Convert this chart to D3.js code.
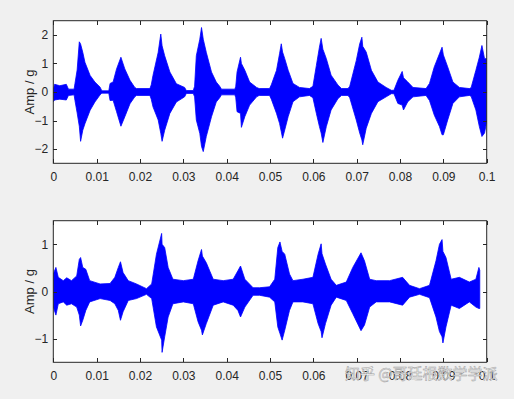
<!DOCTYPE html>
<meta charset="utf-8">
<style>
    body {
        margin: 0;
        background: #f0f0f0;
    }

    .axis text {
        font: 12px "Liberation Sans", Arial, sans-serif;
        fill: #262626;
    }

    .axis line {
        stroke: #262626;
        shape-rendering: crispEdges;
    }

    .ylabel {
        font: 13px "Liberation Sans", Arial, sans-serif;
        fill: #262626;
    }
</style>

<body>
    <script src="https://d3js.org/d3.v7.min.js"></script>
    <script>

        // time axis in ms, labels shown in seconds
        var xTicks = [0, 10, 20, 30, 40, 50, 60, 70, 80, 90, 100];
        var xTickLabels = ["0", "0.01", "0.02", "0.03", "0.04", "0.05", "0.06", "0.07", "0.08", "0.09", "0.1"];

        var topYTicks = [-2, -1, 0, 1, 2];
        var bottomYTicks = [-1, 0, 1];

        // envelope of the raw signal (upper / lower)
        var topTime = [0, 0.3, 1.5, 3.0, 3.5, 4.8, 5.0, 5.5, 6.0, 6.3, 6.8, 7.3, 8.5, 9.6, 10.8, 11.2, 12.8, 13.1, 13.8, 14.6,
            15.6, 16.5, 17.7, 18.8, 19.2, 22.3, 22.6, 23.0, 24.2, 24.8, 25.1, 25.7, 26.9, 28.4, 30.3, 30.7, 32.3, 32.6, 33.0, 33.8,
            34.2, 34.6, 35.3, 36.5, 37.6, 38.4, 38.8, 41.9, 42.1, 42.4, 43.2, 43.4, 44.2, 45.3, 46.9, 47.5, 49.9, 50.3, 51.5, 52.2,
            52.6, 52.9, 53.4, 54.2, 55.3, 56.8, 59.1, 59.9, 60.7, 61.4, 61.8, 62.2, 63.0, 64.1, 65.7, 66.5, 68.0, 68.4, 69.9, 70.7,
            71.2, 71.4, 72.2, 73.4, 74.9, 76.8, 78.0, 78.6, 79.5, 80.5, 80.8, 81.8, 83.0, 86.0, 86.8, 87.9, 89.1, 89.7, 90.0, 91.0,
            92.2, 93.7, 96.0, 96.4, 97.5, 98.3, 98.9, 99.5, 100];
        var topHigh = [0.1, 0.27, 0.22, 0.27, 0.1, 0.1, 0.3, 0.77, 1.76, 1.68, 1.39, 1.04, 0.58, 0.35, 0.17, 0.04, 0.04, 0.3, 0.35, 0.81,
            1.22, 0.81, 0.41, 0.16, 0.12, 0.12, 0.25, 0.58, 1.39, 2.03, 1.62, 1.27, 0.7, 0.29, 0.16, 0.05, 0.05, 0.2, 1.27, 1.85,
            2.26, 1.85, 1.39, 0.7, 0.35, 0.2, 0.1, 0.1, 0.2, 0.7, 1.22, 1.0, 0.76, 0.35, 0.16, 0.12, 0.12, 0.25, 0.76, 1.34,
            1.69, 1.4, 1.17, 0.76, 0.3, 0.16, 0.12, 0.2, 0.93, 1.57, 1.88, 1.5, 1.17, 0.59, 0.24, 0.12, 0.12, 0.2, 1.1, 1.69,
            1.92, 1.6, 1.4, 0.76, 0.35, 0.16, 0.06, 0.06, 0.41, 0.72, 0.5, 0.35, 0.16, 0.12, 0.3, 0.88, 1.34, 1.57, 1.3, 0.88,
            0.35, 0.16, 0.12, 0.15, 0.76, 1.22, 1.63, 1.17, 1.17];
        var topLow = [-0.34, -0.28, -0.25, -0.28, -0.12, -0.1, -0.3, -0.73, -1.2, -1.73, -1.34, -1.11, -0.64, -0.35, -0.1, -0.04, -0.04, -0.3, -0.29, -0.69,
            -1.2, -0.87, -0.41, -0.17, -0.12, -0.12, -0.25, -0.52, -0.98, -1.45, -1.73, -1.34, -0.75, -0.35, -0.17, -0.05, -0.05, -0.17, -0.98, -1.45,
            -1.91, -2.09, -1.56, -0.87, -0.35, -0.2, -0.1, -0.1, -0.2, -0.69, -0.75, -1.24, -0.86, -0.46, -0.17, -0.12, -0.12, -0.25, -0.75, -1.1,
            -1.39, -1.62, -1.33, -0.86, -0.34, -0.17, -0.12, -0.2, -0.75, -1.21, -1.44, -1.77, -1.21, -0.63, -0.23, -0.12, -0.12, -0.2, -0.98, -1.44,
            -1.68, -1.85, -1.27, -0.75, -0.34, -0.17, -0.06, -0.06, -0.4, -0.46, -0.63, -0.34, -0.17, -0.12, -0.3, -0.81, -1.21, -1.5, -1.5, -0.98,
            -0.4, -0.17, -0.12, -0.15, -0.63, -1.21, -1.56, -1.44, -1.04];

        var bottomTime = [0, 0.6, 1.15, 2.3, 3.1, 4.2, 5.4, 6.0, 6.3, 6.8, 7.5, 8.4, 10.8, 13.1, 14.2, 15.0, 15.5, 16.1, 17.3, 19.2,
            21.5, 22.7, 23.8, 25.0, 25.1, 25.7, 26.5, 27.6, 30.0, 32.3, 33.4, 34.2, 34.4, 35.3, 36.9, 39.2, 41.5, 42.6, 43.2, 44.2,
            46.1, 47.6, 49.9, 51.1, 51.8, 52.3, 52.8, 53.4, 54.5, 55.3, 57.6, 59.9, 61.1, 61.8, 62.0, 62.8, 64.1, 65.3, 67.6, 69.1,
            71.0, 71.8, 73.0, 74.5, 77.6, 80.6, 82.2, 84.5, 86.8, 88.3, 89.1, 89.7, 89.9, 90.6, 91.8, 93.7, 96.0, 97.5, 98.2, 98.4];
        var bottomHigh = [0.37, 0.51, 0.3, 0.23, 0.29, 0.23, 0.33, 0.68, 0.72, 0.51, 0.47, 0.23, 0.16, 0.17, 0.3, 0.51, 0.63, 0.4, 0.23, 0.16,
            0.06, 0.16, 0.79, 1.23, 1.0, 0.93, 0.51, 0.26, 0.23, 0.26, 0.65, 0.89, 0.75, 0.61, 0.26, 0.23, 0.26, 0.44, 0.54, 0.26,
            0.08, 0.08, 0.1, 0.26, 0.93, 1.05, 0.85, 0.79, 0.37, 0.23, 0.26, 0.3, 0.79, 1.01, 0.8, 0.58, 0.26, 0.13, 0.2, 0.51,
            0.82, 0.65, 0.26, 0.23, 0.23, 0.3, 0.13, 0.06, 0.13, 0.65, 1.0, 1.1, 0.85, 0.72, 0.26, 0.3, 0.2, 0.26, 0.51, 0.45];
        var bottomLow = [-0.33, -0.5, -0.26, -0.22, -0.29, -0.26, -0.33, -0.5, -0.73, -0.61, -0.4, -0.22, -0.15, -0.19, -0.26, -0.4, -0.61, -0.43, -0.19, -0.15,
            -0.06, -0.15, -0.75, -1.03, -1.29, -0.96, -0.54, -0.26, -0.22, -0.26, -0.64, -0.82, -0.92, -0.68, -0.29, -0.22, -0.29, -0.4, -0.54, -0.33,
            -0.08, -0.08, -0.12, -0.22, -0.75, -0.89, -1.03, -0.82, -0.4, -0.22, -0.22, -0.26, -0.68, -0.85, -0.98, -0.68, -0.29, -0.12, -0.19, -0.47,
            -0.83, -0.71, -0.33, -0.22, -0.22, -0.29, -0.12, -0.06, -0.13, -0.54, -0.85, -0.96, -1.09, -0.75, -0.29, -0.36, -0.22, -0.33, -0.36, -0.36];

        var width = 514, height = 399;

        var svg = d3.select("body").append("svg")
            .attr("width", width)
            .attr("height", height);

        svg.append("rect")
            .attr("width", width)
            .attr("height", height)
            .attr("fill", "#f0f0f0");

        var x = d3.scaleLinear().domain([0, 100]).range([53.3, 486.7]);

        function drawPanel(id, top, bottom, yDomain, yTicks, time, high, low) {
            var y = d3.scaleLinear().domain(yDomain).range([bottom, top]);
            var g = svg.append("g");

            g.append("rect")
                .attr("x", x.range()[0])
                .attr("y", top)
                .attr("width", x.range()[1] - x.range()[0])
                .attr("height", bottom - top)
                .attr("fill", "#fff");

            g.append("clipPath").attr("id", id)
                .append("rect")
                .attr("x", x.range()[0])
                .attr("y", top)
                .attr("width", x.range()[1] - x.range()[0])
                .attr("height", bottom - top);

            var rows = time.map((t, i) => ({ t: t, hi: high[i], lo: low[i] }));

            var area = d3.area()
                .x(d => x(d.t))
                .y0(d => y(d.lo))
                .y1(d => y(d.hi));

            g.append("path")
                .datum(rows)
                .attr("clip-path", "url(#" + id + ")")
                .attr("d", area)
                .attr("fill", "#0000ff")
                .attr("stroke", "#0000ff")
                .attr("stroke-width", 0.8);

            // ticks point inwards on all four sides
            g.append("g").attr("class", "axis")
                .attr("transform", "translate(0," + bottom + ")")
                .call(d3.axisBottom(x).tickValues(xTicks)
                    .tickFormat((d, i) => xTickLabels[i])
                    .tickSizeInner(-4).tickSizeOuter(0).tickPadding(9));
            g.append("g").attr("class", "axis")
                .attr("transform", "translate(0," + top + ")")
                .call(d3.axisTop(x).tickValues(xTicks).tickFormat("")
                    .tickSizeInner(-4).tickSizeOuter(0));
            g.append("g").attr("class", "axis")
                .attr("transform", "translate(" + x.range()[0] + ",0)")
                .call(d3.axisLeft(y).tickValues(yTicks).tickFormat(d3.format("d"))
                    .tickSizeInner(-4).tickSizeOuter(0).tickPadding(5));
            g.append("g").attr("class", "axis")
                .attr("transform", "translate(" + x.range()[1] + ",0)")
                .call(d3.axisRight(y).tickValues(yTicks).tickFormat("")
                    .tickSizeInner(-4).tickSizeOuter(0));
            g.selectAll(".axis .domain").remove();

            g.append("rect")
                .attr("x", x.range()[0])
                .attr("y", top)
                .attr("width", x.range()[1] - x.range()[0])
                .attr("height", bottom - top)
                .attr("fill", "none")
                .attr("stroke", "#262626")
                .attr("stroke-width", 1);

            g.append("text")
                .attr("class", "ylabel")
                .attr("transform", "translate(34," + (top + bottom) / 2 + ") rotate(-90)")
                .attr("text-anchor", "middle")
                .text("Amp / g");
        }

        drawPanel("clipTop", 20.7, 163.3, [-2.5, 2.5], topYTicks, topTime, topHigh, topLow);
        drawPanel("clipBottom", 220.7, 362.3, [-1.5, 1.5], bottomYTicks, bottomTime, bottomHigh, bottomLow);

        // watermark, lies over the last tick labels as in the original
        svg.append("text")
            .attr("x", 345)
            .attr("y", 379)
            .style("font", "15px 'Noto Sans CJK SC', sans-serif")
            .attr("fill", "#fff")
            .attr("fill-opacity", 0.9)
            .attr("stroke", "#a0a0a0")
            .attr("stroke-width", 0.5)
            .text("知乎 @哥廷根数学学派");

    </script>
</body>
